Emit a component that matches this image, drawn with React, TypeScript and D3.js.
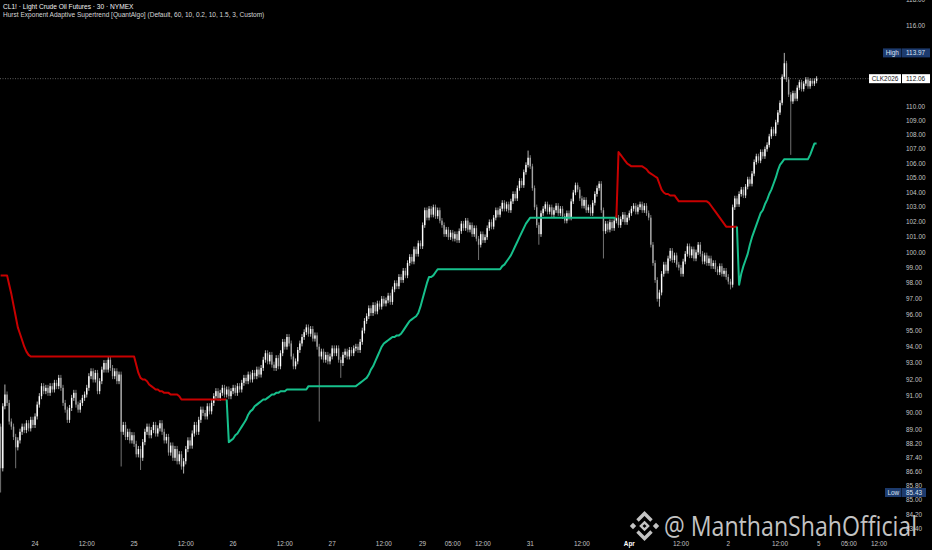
import React, { useEffect, useRef } from "react";
import * as d3 from "d3";

// 30 min closes, one array per session (UTC days)
const closesMar23 = [86.8, 90.4, 91.1, 90.6, 89.5, 89.2, 88.6, 88.0, 88.4, 88.9, 89.2, 89.0, 89.4, 89.1, 89.6, 89.3];
const closesMar24 = [
  89.8, 90.5, 91.0, 91.6, 91.3, 91.5, 91.2, 91.6, 91.4, 91.8,
  91.6, 92.1, 91.5, 90.6, 90.2, 89.6, 90.3, 90.9, 91.2, 90.5,
  90.2, 90.6, 90.9, 91.1, 91.5, 92.2, 92.5, 92.0, 92.4, 91.3,
  91.9, 92.6, 93.0, 92.6, 93.2, 92.7, 92.2, 92.5, 91.9, 92.3,
  88.9, 89.3, 88.6, 88.9, 88.4, 88.7,
];
const closesMar25 = [
  88.2, 87.6, 87.9, 87.4, 88.3, 88.9, 89.2, 88.7, 89.0, 89.3,
  88.8, 89.1, 89.4, 88.9, 88.4, 88.6, 87.7, 88.1, 87.4, 87.9,
  87.2, 87.6, 86.9, 87.2, 87.9, 88.4, 88.1, 88.8, 89.3, 88.9,
  89.6, 90.2, 90.0, 89.8, 90.4, 90.1, 90.6, 91.0, 91.3, 90.9,
  91.2, 91.5, 91.1, 91.4, 91.0, 91.3,
];
const closesMar26 = [
  91.5, 91.2, 91.6, 91.4, 91.8, 92.1, 91.9, 92.3, 92.0, 92.4,
  92.2, 92.6, 92.3, 92.7, 93.2, 93.6, 93.1, 93.5, 92.9, 92.7,
  93.3, 92.8, 93.6, 94.3, 94.0, 94.6, 94.2, 93.4, 92.8, 93.1,
  93.8, 94.2, 94.6, 94.9, 95.2, 94.8, 95.1, 94.5, 94.7, 94.0,
  93.4, 93.7, 93.2, 93.5, 93.1, 93.4,
];
const closesMar27 = [
  93.9, 93.6, 93.9, 93.2, 93.0, 93.5, 93.7, 93.4, 93.8, 93.6,
  93.9, 94.0, 93.8, 94.3, 95.0, 95.6, 95.9, 96.4, 96.1, 96.6,
  96.2, 96.7, 96.5, 97.0, 96.7, 96.9, 97.2, 96.8, 97.6, 98.0,
  97.8, 98.4, 98.2, 98.8, 98.5, 99.3, 99.7, 99.4, 100.2, 99.9,
  100.6, 100.4,
];
const closesMar29 = [101.8, 102.8, 102.3, 102.9];
const closesMar30 = [
  102.5, 103.0, 102.4, 102.8, 102.1, 101.8, 101.2, 101.5, 101.0, 101.3,
  100.9, 101.2, 100.8, 101.4, 101.9, 101.6, 102.1, 101.5, 101.8, 101.2,
  101.6, 100.9, 100.5, 101.2, 100.8, 101.0, 101.6, 102.0, 101.7, 102.3,
  102.8, 102.5, 102.9, 103.3, 102.9, 103.2, 102.8, 103.4, 103.9, 103.6,
  104.3, 104.8, 104.5, 105.4, 105.9, 106.4,
];
const closesMar31 = [
  105.8, 104.3, 103.0, 101.8, 101.2, 102.6, 102.9, 103.2, 102.7, 103.0,
  102.5, 102.8, 103.1, 102.6, 102.9, 102.4, 102.1, 102.6, 102.3, 103.4,
  104.0, 104.5, 104.2, 103.6, 103.1, 103.5, 102.8, 103.0, 102.6, 103.3,
  103.9, 104.3, 104.6, 102.8, 101.4, 101.9, 101.5, 102.0, 101.6, 102.1,
  102.3, 101.8, 102.2, 102.5, 102.0, 102.3,
];
const closesApr1 = [
  102.6, 102.9, 103.1, 102.7, 103.0, 103.2, 102.8, 103.1, 102.6, 102.3,
  100.5, 99.3, 98.2, 97.0, 97.4, 98.6, 99.2, 98.8, 99.6, 100.1,
  99.5, 99.8, 99.2, 99.0, 98.6, 99.4, 99.9, 100.4, 99.8, 100.2,
  99.6, 100.0, 100.5, 99.9, 99.4, 99.8, 99.3, 99.6, 99.1, 99.3,
  98.9, 98.7, 99.1, 98.6, 98.8, 98.4,
];
const closesApr2 = [
  98.1, 97.9, 103.0, 103.6, 103.2, 103.9, 104.2, 103.8, 104.4, 104.9,
  104.6, 105.3, 106.1, 106.5, 106.2, 106.8, 106.5, 107.0, 107.3, 107.9,
  108.4, 108.1, 108.9, 109.6, 110.3, 112.2, 113.2, 112.0, 110.9, 110.4,
  111.0, 110.6, 111.4, 111.8, 111.3, 111.7, 112.0, 111.5, 111.9, 111.7,
  111.9, 112.06,
];
const firstOpen = 89.2;

// long wicks [bar, price]
const wickHighs = [[2, 91.7], [245, 106.9], [364, 113.97]];
const wickLows = [
  [0, 85.43], [7, 86.8], [56, 86.9], [65, 86.7], [85, 86.5], [148, 89.5],
  [158, 92.1], [222, 99.5], [250, 100.5], [280, 99.6], [306, 96.5], [339, 97.6], [367, 106.6],
];

// supertrend value per bar
const stMar23 = [98.5, 98.5, 98.5, 98.5, 97.9, 97.3, 96.6, 95.9, 95.2, 94.8, 94.4, 94.0, 93.7, 93.5, 93.4, 93.4];
const stMar24 = [
  93.4, 93.4, 93.4, 93.4, 93.4, 93.4, 93.4, 93.4, 93.4, 93.4,
  93.4, 93.4, 93.4, 93.4, 93.4, 93.4, 93.4, 93.4, 93.4, 93.4,
  93.4, 93.4, 93.4, 93.4, 93.4, 93.4, 93.4, 93.4, 93.4, 93.4,
  93.4, 93.4, 93.4, 93.4, 93.4, 93.4, 93.4, 93.4, 93.4, 93.4,
  93.4, 93.4, 93.4, 93.4, 93.4, 93.4,
];
const stMar25 = [
  93.4, 92.9, 92.4, 92.1, 92.0, 92.0, 91.9, 91.7, 91.6, 91.5,
  91.4, 91.4, 91.3, 91.3, 91.2, 91.2, 91.2, 91.1, 91.1, 91.1,
  91.1, 91.0, 90.8, 90.8, 90.8, 90.8, 90.8, 90.8, 90.8, 90.8,
  90.8, 90.8, 90.8, 90.8, 90.8, 90.8, 90.8, 90.8, 90.8, 90.8,
  90.8, 90.8, 90.8, 90.8, 88.3, 88.4,
];
const stMar26 = [
  88.5, 88.7, 88.8, 89.0, 89.2, 89.4, 89.6, 89.9, 90.1, 90.2,
  90.4, 90.5, 90.6, 90.7, 90.8, 90.8, 90.9, 91.0, 91.1, 91.1,
  91.2, 91.2, 91.3, 91.3, 91.3, 91.4, 91.4, 91.4, 91.4, 91.4,
  91.4, 91.4, 91.4, 91.4, 91.4, 91.6, 91.6, 91.6, 91.6, 91.6,
  91.6, 91.6, 91.6, 91.6, 91.6, 91.6,
];
const stMar27 = [
  91.6, 91.6, 91.6, 91.6, 91.6, 91.6, 91.6, 91.6, 91.6, 91.6,
  91.6, 91.6, 91.7, 91.8, 91.9, 92.0, 92.1, 92.3, 92.6, 92.8,
  93.1, 93.4, 93.7, 94.0, 94.2, 94.3, 94.4, 94.5, 94.6, 94.6,
  94.7, 94.7, 94.8, 95.0, 95.2, 95.4, 95.6, 95.7, 95.8, 95.9,
  96.1, 96.5,
];
const stMar29 = [97.0, 97.5, 98.0, 98.4];
const stMar30 = [
  98.4, 98.5, 98.7, 98.9, 98.9, 98.9, 98.9, 98.9, 98.9, 98.9,
  98.9, 98.9, 98.9, 98.9, 98.9, 98.9, 98.9, 98.9, 98.9, 98.9,
  98.9, 98.9, 98.9, 98.9, 98.9, 98.9, 98.9, 98.9, 98.9, 98.9,
  98.9, 98.9, 98.9, 99.1, 99.2, 99.4, 99.6, 99.8, 100.1, 100.4,
  100.7, 101.0, 101.3, 101.6, 101.9, 102.1,
];
const stMar31 = [
  102.3, 102.3, 102.3, 102.3, 102.3, 102.3, 102.3, 102.3, 102.3, 102.3,
  102.3, 102.3, 102.3, 102.3, 102.3, 102.3, 102.3, 102.3, 102.3, 102.3,
  102.3, 102.3, 102.3, 102.3, 102.3, 102.3, 102.3, 102.3, 102.3, 102.3,
  102.3, 102.3, 102.3, 102.3, 102.3, 102.3, 102.3, 102.3, 102.3, 102.3,
  102.3, 106.8, 106.6, 106.4, 106.2, 106.0,
];
const stApr1 = [
  105.9, 105.8, 105.8, 105.8, 105.8, 105.8, 105.8, 105.7, 105.6, 105.4,
  105.3, 105.2, 105.1, 105.0, 104.6, 104.2, 104.0, 103.9, 103.9, 103.8,
  103.8, 103.8, 103.6, 103.4, 103.4, 103.4, 103.4, 103.4, 103.4, 103.4,
  103.4, 103.4, 103.4, 103.4, 103.4, 103.4, 103.4, 103.3, 103.1, 102.9,
  102.7, 102.5, 102.3, 102.1, 101.9, 101.7,
];
const stApr2 = [
  101.7, 101.7, 101.7, 101.7, 101.7, 97.9, 98.6, 99.1, 99.5, 99.9,
  100.5, 101.0, 101.4, 101.8, 102.2, 102.6, 102.8, 103.2, 103.5, 103.9,
  104.2, 104.6, 105.0, 105.5, 105.9, 106.1, 106.3, 106.3, 106.3, 106.3,
  106.3, 106.3, 106.3, 106.3, 106.3, 106.3, 106.3, 106.3, 106.6, 107.0,
  107.4, 107.4,
];
// bars where the supertrend switches side (starts bearish)
const trendFlips = [106, 287, 343];

const priceTicks = [118, 116, 110, 109, 108, 107, 106, 105, 104, 103, 102, 101, 100, 99, 98, 97, 96, 95, 94, 93, 92, 91, 90, 89, 88.2, 87.4, 86.6, 85.8, 85, 84.2, 83.4];
const timeTickBars = [16, 40, 62, 86, 108, 132, 154, 178, 196, 210, 224, 246, 270, 292, 316, 338, 362, 380, 394, 408];
const timeTickLabels = ["24", "12:00", "25", "12:00", "26", "12:00", "27", "12:00", "29", "05:00", "12:00", "31", "12:00", "Apr", "12:00", "2", "12:00", "5", "05:00", "12:00"];

const highValue = 113.97;
const lowValue = 85.43;
const lastValue = 112.06;

const App: React.FC = () => {
  const svgRef = useRef<SVGSVGElement>(null);

  useEffect(() => {
    const width = 932;
    const height = 550;
    const font = "'Liberation Sans', Arial, sans-serif";

    const svg = d3.select(svgRef.current);
    svg.selectAll("*").remove();
    svg.attr("width", width).attr("height", height);
    svg.append("rect").attr("width", width).attr("height", height).attr("fill", "#000");

    const closes = [
      ...closesMar23, ...closesMar24, ...closesMar25, ...closesMar26, ...closesMar27,
      ...closesMar29, ...closesMar30, ...closesMar31, ...closesApr1, ...closesApr2,
    ];
    const st = [
      ...stMar23, ...stMar24, ...stMar25, ...stMar26, ...stMar27,
      ...stMar29, ...stMar30, ...stMar31, ...stApr1, ...stApr2,
    ];
    const opens = closes.map((c, i) => (i === 0 ? firstOpen : closes[i - 1]));
    const highs = closes.map((c, i) => Math.max(c, opens[i]) + 0.18);
    const lows = closes.map((c, i) => Math.min(c, opens[i]) - 0.18);
    wickHighs.forEach(([b, v]) => (highs[b] = Math.max(highs[b], v)));
    wickLows.forEach(([b, v]) => (lows[b] = Math.min(lows[b], v)));

    const n = closes.length;
    const x = d3.scaleLinear().domain([0, 379]).range([0.6, 816.6]);
    const y = d3.scaleLog().domain([83.4, 118]).range([529.2, -0.1]);

    // price line for the last value
    svg
      .append("line")
      .attr("x1", 0)
      .attr("x2", 869)
      .attr("y1", y(lastValue))
      .attr("y2", y(lastValue))
      .attr("stroke", "#8a8a8a")
      .attr("stroke-width", 0.7)
      .attr("stroke-dasharray", "1,1.5");

    // candles
    const bars = d3.range(n);
    const g = svg.append("g");
    g.selectAll("line.wick")
      .data(bars)
      .enter()
      .append("line")
      .attr("x1", (i) => x(i))
      .attr("x2", (i) => x(i))
      .attr("y1", (i) => y(highs[i]))
      .attr("y2", (i) => y(lows[i]))
      .attr("stroke", (i) => (closes[i] >= opens[i] ? "#ffffff" : "#a4a4a4"))
      .attr("stroke-width", 0.7);
    g.selectAll("rect.body")
      .data(bars)
      .enter()
      .append("rect")
      .attr("x", (i) => x(i) - 0.7)
      .attr("width", 1.4)
      .attr("y", (i) => y(Math.max(opens[i], closes[i])))
      .attr("height", (i) => Math.max(0.7, Math.abs(y(opens[i]) - y(closes[i]))))
      .attr("fill", (i) => (closes[i] >= opens[i] ? "#ffffff" : "#a4a4a4"));

    // supertrend, each segment takes the colour of the bar it ends on
    const bounds = [0, ...trendFlips, n];
    const line = d3
      .line<number>()
      .x((i) => x(i))
      .y((i) => y(st[i]));
    for (let k = 0; k < bounds.length - 1; k++) {
      const start = Math.max(0, bounds[k] - 1);
      const idx = d3.range(start, bounds[k + 1]);
      svg
        .append("path")
        .attr("d", line(idx))
        .attr("fill", "none")
        .attr("stroke", k % 2 === 0 ? "#c80000" : "#17c08c")
        .attr("stroke-width", 2)
        .attr("stroke-linejoin", "round");
    }

    // right price scale
    svg
      .selectAll("text.tick")
      .data(priceTicks)
      .enter()
      .append("text")
      .attr("x", 906)
      .attr("y", (d) => y(d) + 2.2)
      .attr("fill", "#c4c4c4")
      .style("font-family", font)
      .style("font-size", "6.4px")
      .text((d) => d.toFixed(2));

    const tag = (label: string, lx: number, lw: number, value: number, vw: number, bg: string, fg: string) => {
      const cy = y(value);
      svg.append("rect").attr("x", lx).attr("y", cy - 4.5).attr("width", lw).attr("height", 9).attr("fill", bg);
      svg.append("rect").attr("x", 902).attr("y", cy - 4.5).attr("width", vw).attr("height", 9).attr("fill", bg);
      svg
        .append("text")
        .attr("x", lx + lw / 2)
        .attr("y", cy + 2.3)
        .attr("text-anchor", "middle")
        .attr("fill", fg)
        .style("font-family", font)
        .style("font-size", "6.4px")
        .text(label);
      svg
        .append("text")
        .attr("x", 906)
        .attr("y", cy + 2.3)
        .attr("fill", fg)
        .style("font-family", font)
        .style("font-size", "6.4px")
        .text(value.toFixed(2));
    };
    tag("High", 883, 18.5, highValue, 28, "#1d3b6e", "#dce4f2");
    tag("CLK2026", 869, 32, lastValue, 28, "#ffffff", "#111111");
    tag("Low", 885, 16.5, lowValue, 24, "#1d3b6e", "#dce4f2");

    // time scale
    svg
      .selectAll("text.time")
      .data(timeTickBars)
      .enter()
      .append("text")
      .attr("x", (b) => x(b))
      .attr("y", 546)
      .attr("text-anchor", "middle")
      .attr("fill", (b, i) => (timeTickLabels[i] === "Apr" ? "#ffffff" : "#c4c4c4"))
      .style("font-weight", (b, i) => (timeTickLabels[i] === "Apr" ? "bold" : "normal"))
      .style("font-family", font)
      .style("font-size", "6.4px")
      .text((b, i) => timeTickLabels[i]);

    // header
    svg
      .append("text")
      .attr("x", 3)
      .attr("y", 9.3)
      .attr("fill", "#f2f2f2")
      .style("font-family", font)
      .style("font-size", "6.6px")
      .text("CL1! · Light Crude Oil Futures · 30 · NYMEX");
    svg
      .append("text")
      .attr("x", 3)
      .attr("y", 17.4)
      .attr("fill", "#d6d6d6")
      .style("font-family", font)
      .style("font-size", "6.55px")
      .text("Hurst Exponent Adaptive Supertrend [QuantAlgo] (Default, 60, 10, 0.2, 10, 1.5, 3, Custom)");

    // watermark
    const wm = svg.append("g").attr("opacity", 0.88).attr("fill", "#dedede").attr("stroke", "#dedede");
    const diamond = (cx: number, cy: number, r: number) =>
      `M${cx},${cy - r}L${cx + r},${cy}L${cx},${cy + r}L${cx - r},${cy}Z`;
    wm.append("path").attr("d", diamond(633, 526, 3.2)).attr("stroke", "none");
    wm.append("path").attr("d", diamond(656, 526, 3.2)).attr("stroke", "none");
    wm.append("path").attr("d", diamond(644.5, 526, 3.6)).attr("fill", "none").attr("stroke-width", 2.4);
    wm.append("path").attr("d", "M637.5,520.5L644.5,513.5L651.5,520.5").attr("fill", "none").attr("stroke-width", 3.4);
    wm.append("path").attr("d", "M637.5,531.5L644.5,538.5L651.5,531.5").attr("fill", "none").attr("stroke-width", 3.4);
    wm.append("text")
      .attr("x", 664)
      .attr("y", 536)
      .attr("stroke", "none")
      .attr("textLength", 253)
      .attr("lengthAdjust", "spacingAndGlyphs")
      .style("font-family", "'Open Sans', 'Noto Sans', sans-serif")
      .style("font-size", "28px")
      .text("@ ManthanShahOfficial");
  }, []);

  return (
    <div style={{ width: 932, height: 550, background: "#000" }}>
      <style>{"body{margin:0;background:#000}"}</style>
      <svg ref={svgRef} style={{ display: "block" }}></svg>
    </div>
  );
};

export default App;
